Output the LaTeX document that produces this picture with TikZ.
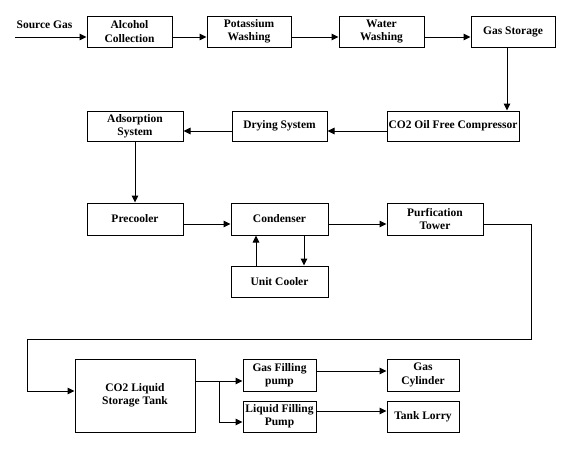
\documentclass[tikz,border=0pt]{standalone}
\usepackage{fontspec}
\setmainfont{Liberation Serif}
\usetikzlibrary{arrows.meta}
\begin{document}
\begin{tikzpicture}[x=1pt,y=-1pt,
  box/.style={draw,line width=1pt,inner sep=0pt,align=center,
    font=\bfseries\fontsize{11.5}{13.3}\selectfont},
  lbl/.style={inner sep=0pt,font=\bfseries\fontsize{11.5}{13.3}\selectfont},
  conn/.style={line width=1pt},
  arr/.style={conn,-{Triangle[length=7pt,width=6.5pt]}}]
\useasboundingbox (0,0) rectangle (572,448);
\fill[white] (0,0) rectangle (572,448);
% row 1
\node[box,minimum width=85pt,minimum height=31pt] (alc) at (129.5,31.5) {Alcohol\\Collection};
\node[box,minimum width=84pt,minimum height=31pt] (pot) at (249,31.5) {Potassium\\Washing};
\node[box,minimum width=85pt,minimum height=31pt] (wat) at (381.5,31.5) {Water\\Washing};
\node[box,minimum width=84pt,minimum height=31pt] (gst) at (513,31.5) {Gas Storage};
\node[lbl] (srclbl) at (44.5,24.5) {Source Gas};
\coordinate (src) at (15,37);
% row 2
\node[box,minimum width=132pt,minimum height=30pt] (comp) at (453,126) {CO2 Oil Free Compressor};
\node[box,minimum width=95pt,minimum height=30pt] (dry) at (279.5,126) {Drying System};
\node[box,minimum width=96pt,minimum height=30pt] (ads) at (135,126) {Adsorption\\System};
% row 3
\node[box,minimum width=96pt,minimum height=32pt] (pre) at (135,219) {Precooler};
\node[box,minimum width=97pt,minimum height=32pt] (con) at (279.5,219) {Condenser};
\node[box,minimum width=96pt,minimum height=32pt] (pur) at (435,219) {Purfication\\Tower};
\node[box,minimum width=97pt,minimum height=31pt] (uc) at (279.5,281.5) {Unit Cooler};
% row 4
\node[box,minimum width=120pt,minimum height=73pt] (tank) at (135,395.5) {CO2 Liquid\\Storage Tank};
\node[box,minimum width=73pt,minimum height=32pt] (gfp) at (279.5,375) {Gas Filling\\pump};
\node[box,minimum width=73pt,minimum height=31pt] (lfp) at (279.5,416.5) {Liquid Filling\\Pump};
\node[box,minimum width=72pt,minimum height=32pt] (gcy) at (423,375) {Gas\\Cylinder};
\node[box,minimum width=72pt,minimum height=31pt] (tl) at (423,416.5) {Tank Lorry};
% connectors row 1
\draw[arr] (src) -- (src -| alc.west);
\draw[arr] (alc.east |- src) -- (pot.west |- src);
\draw[arr] (pot.east |- src) -- (wat.west |- src);
\draw[arr] (wat.east |- src) -- (gst.west |- src);
\draw[arr] ([xshift=-6pt]gst.south) -- ([xshift=-6pt]gst.south |- comp.north);
% row 2
\coordinate (r2) at (0,131);
\draw[arr] (comp.west |- r2) -- (dry.east |- r2);
\draw[arr] (dry.west |- r2) -- (ads.east |- r2);
\draw[arr] (ads.south) -- (pre.north);
% row 3
\coordinate (r3) at (0,224);
\draw[arr] (pre.east |- r3) -- (con.west |- r3);
\draw[arr] (con.east |- r3) -- (pur.west |- r3);
\draw[arr] ([xshift=-23.5pt]uc.north) -- ([xshift=-23.5pt]con.south);
\draw[arr] ([xshift=24.5pt]con.south) -- ([xshift=24.5pt]uc.north);
% loop to tank
\coordinate (lpA) at (531,224);
\coordinate (lpB) at (27,339);
\draw[arr] (pur.east |- r3) -- (lpA) |- (lpB) |- ([yshift=4.5pt]tank.west);
% branch
\coordinate (br) at (219,381);
\coordinate (brL) at (219,422);
\draw[conn] (tank.east |- br) -- (br);
\draw[arr] (br) -- (gfp.west |- br);
\draw[arr] (br) -- (brL) -- (lfp.west |- brL);
\draw[arr] ([yshift=4pt]gfp.east) -- ([yshift=4pt]gfp.east -| gcy.west);
\draw[arr] ([yshift=5.5pt]lfp.east) -- ([yshift=5.5pt]lfp.east -| tl.west);
\end{tikzpicture}
\end{document}
